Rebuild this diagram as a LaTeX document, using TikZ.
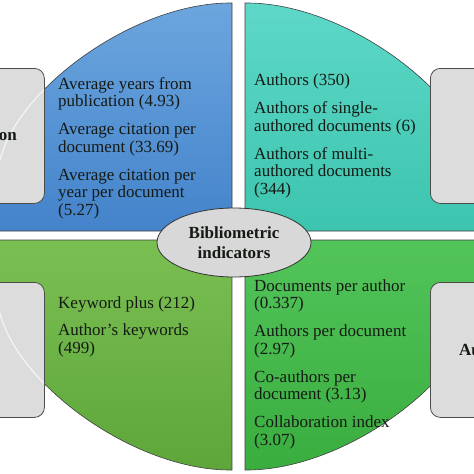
\documentclass[tikz,border=0pt]{standalone}
\usepackage{fontspec}
\setmainfont{Liberation Serif}
\usetikzlibrary{shapes.geometric}
\definecolor{tlTop}{HTML}{6CA6DE}
\definecolor{tlBot}{HTML}{4483CB}
\definecolor{trTop}{HTML}{5ED8C8}
\definecolor{trBot}{HTML}{3CC4AE}
\definecolor{blTop}{HTML}{7ABF52}
\definecolor{blBot}{HTML}{5EA63A}
\definecolor{brTop}{HTML}{52C45A}
\definecolor{brBot}{HTML}{3AAD3F}
\definecolor{boxFill}{HTML}{DCDCDC}
\definecolor{hubFill}{HTML}{D8D8D8}
\definecolor{txt}{HTML}{151A15}
\begin{document}
\begin{tikzpicture}[x=1pt,y=-1pt,
  quad/.style={draw=black!75, line width=0.6pt},
  infobox/.style={draw=black!70, line width=0.8pt, fill=boxFill, rounded corners=10pt,
    minimum width=64pt, minimum height=135pt, inner sep=0pt, anchor=north west},
  body/.style={anchor=north west, inner sep=0pt, align=left,
    font=\fontsize{17}{17.5}\selectfont, text=txt},
  boxlabel/.style={inner sep=0pt, font=\fontsize{17}{17.5}\selectfont\bfseries, text=txt},
  hub/.style={ellipse, draw=black!80, line width=0.8pt, fill=hubFill,
    minimum width=154pt, minimum height=69pt, inner sep=0pt, align=center,
    font=\fontsize{17}{20}\selectfont\bfseries, text=txt},
  glint/.style={white, line width=1.2pt, opacity=0.7}
]
\useasboundingbox (0,0) rectangle (474,474);
\clip (0,0) rectangle (474,474);

% quadrants
\draw[quad, top color=tlTop, bottom color=tlBot]
  (232,231) -- (232,3) .. controls (135,2) and (18,88) .. (0,160) -- (-10,160) -- (-10,231) -- cycle;
\draw[quad, top color=trTop, bottom color=trBot]
  (245,231) -- (245,3) .. controls (342,2) and (459,88) .. (477,160) -- (484,160) -- (484,231) -- cycle;
\draw[quad, top color=blTop, bottom color=blBot]
  (232,240) -- (232,470) .. controls (135,471) and (18,385) .. (0,313) -- (-10,313) -- (-10,240) -- cycle;
\draw[quad, top color=brTop, bottom color=brBot]
  (245,240) -- (245,470) .. controls (342,471) and (459,385) .. (477,313) -- (484,313) -- (484,240) -- cycle;

% side boxes
\node[infobox] (boxTL) at (-20,68) {};
\node[infobox] (boxTR) at (430,68) {};
\node[infobox] (boxBL) at (-20,282) {};
\node[infobox] (boxBR) at (430,282) {};

\begin{scope}
  \clip[rounded corners=10pt] (-20,68) rectangle (44,203);
  \draw[glint] (232,3) .. controls (135,2) and (18,88) .. (0,160);
\end{scope}
\begin{scope}
  \clip[rounded corners=10pt] (-20,282) rectangle (44,417);
  \draw[glint] (232,470) .. controls (135,471) and (18,385) .. (0,313);
\end{scope}

\node[boxlabel, anchor=east] (labTL) at (17,137) {on};
\node[boxlabel, anchor=west] (labBR) at (459,350) {Au};

% texts
\node[body] (txtTL) at (58,77) {Average years from\\publication (4.93)\\[10.5pt]Average citation per\\document (33.69)\\[10.5pt]Average citation per\\year per document\\(5.27)};
\node[body] (txtTR) at (254,74) {Authors (350)\\[10.5pt]Authors of single-\\authored documents (6)\\[10.5pt]Authors of multi-\\authored documents\\(344)};
\node[body] (txtBL) at (58,296) {Keyword plus (212)\\[10.5pt]Author’s keywords\\(499)};
\node[body] (txtBR) at (254,279.4) {Documents per author\\(0.337)\\[10.5pt]Authors per document\\(2.97)\\[10.5pt]Co-authors per\\document (3.13)\\[10.5pt]Collaboration index\\(3.07)};

% hub
\node[hub] (hub) at (234,242.5) {Bibliometric\\indicators};
\end{tikzpicture}
\end{document}
